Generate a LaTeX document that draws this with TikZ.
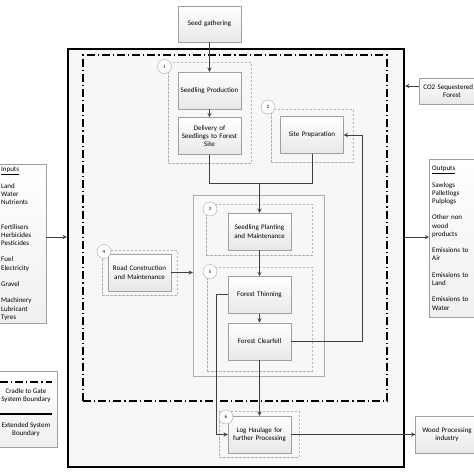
\documentclass[tikz,border=0pt]{standalone}
\usepackage{fontspec}
\setmainfont{Carlito}
\usepackage{tikz}
\usetikzlibrary{shapes.geometric, arrows, positioning}
\tikzstyle{process} = [rectangle, minimum width=63pt, minimum height=37pt, text width=60pt, inner sep=1pt, align=center, draw=gray!75, top color=white, bottom color=gray!18, font=\fontsize{7}{8.2}\selectfont]
\tikzstyle{listbox} = [rectangle, inner sep=3pt, align=left, draw=gray!75, top color=white, bottom color=gray!12, font=\fontsize{7}{8.2}\selectfont]
\tikzstyle{phase} = [rectangle, draw=gray!60, dash pattern=on 2.5pt off 1.5pt]
\tikzstyle{num} = [circle, minimum size=14pt, inner sep=0pt, draw=gray!70, fill=white, font=\fontsize{5}{6}\selectfont]
\tikzstyle{arrow} = [line width=0.9pt, draw=black!75, ->, >=stealth]
\tikzstyle{link} = [line width=0.9pt, draw=black!75]
\tikzstyle{cradle} = [line width=1.6pt, dash pattern=on 8pt off 3pt on 1.2pt off 3pt]
\tikzstyle{extended} = [line width=2.4pt]
\begin{document}
\begin{tikzpicture}[x=1pt, y=-1pt]
\useasboundingbox (0,0) rectangle (474,474);
% system boundaries
\node (ext) [draw, extended, fill=gray!6, minimum width=336pt, minimum height=418pt, inner sep=0pt] at (236,258) {};
\node (cradle) [draw, cradle, minimum width=304pt, minimum height=346pt, inner sep=0pt] at (235,228) {};
% phases
\node (core) [rectangle, draw=gray!65, minimum width=131pt, minimum height=181pt] at (258.5,285.5) {};
\node (grp1) [phase, minimum width=83pt, minimum height=101pt] at (209.5,112.5) {};
\node (grp2) [phase, minimum width=82pt, minimum height=53pt] at (312,135.5) {};
\node (grp3) [phase, minimum width=106pt, minimum height=51pt] at (259,229.5) {};
\node (grp4) [phase, minimum width=75pt, minimum height=45pt] at (139.5,272.5) {};
\node (grp5) [phase, minimum width=105pt, minimum height=104pt] at (259.5,319) {};
\node (grp6) [phase, minimum width=80pt, minimum height=46pt] at (259,434) {};
% processes
\node (seed) [process, minimum height=36pt] at (209.5,24) {Seed gathering};
\node (prod) [process] at (209.5,90.5) {Seedling Production};
\node (deliv) [process, below=8pt of prod] {Delivery of\\Seedlings to Forest\\Site};
\node (site) [process] at (312,135) {Site Preparation};
\node (plant) [process] at (259.5,231.5) {Seedling Planting\\and Maintenance};
\node (thin) [process, below=26pt of plant] {Forest Thinning};
\node (clear) [process, below=9pt of thin] {Forest Clearfell};
\node (road) [process] at (139.5,272.5) {Road Construction\\and Maintenance};
\node (haul) [process] at (259.5,434.5) {Log Haulage for\\further Processing};
\node (wood) [process] at (447,434.5) {Wood Processing\\industry};
\node (co2) [process, text width=64pt, minimum height=26pt] at (452,91) {CO2 Sequestered in\\Forest};
% phase numbers
\node (n1) [num] at (164.5,66.5) {1};
\node (n2) [num] at (268,107) {2};
\node (n3) [num] at (210,209) {3};
\node (n4) [num] at (104,251.5) {4};
\node (n5) [num] at (210,271.5) {5};
\node (n6) [num] at (226,417) {6};
% inputs and outputs
\node (inputs) [listbox, anchor=north west, minimum width=48pt, minimum height=158pt, text width=42pt] at (-2,164) {\underline{Inputs}\\[8.2pt]Land\\Water\\Nutrients\\[16.4pt]Fertilisers\\Herbicides\\Pesticides\\[8.2pt]Fuel\\Electricity\\[8.2pt]Gravel\\[8.2pt]Machinery\\Lubricant\\Tyres};
\node (outputs) [listbox, anchor=north west, minimum width=50pt, minimum height=158pt, text width=44pt] at (429,159) {\underline{Outputs}\\[8.2pt]Sawlogs\\Palletlogs\\Pulplogs\\[8.2pt]Other non\\wood\\products\\[8.2pt]Emissions to\\Air\\[8.2pt]Emissions to\\Land\\[8.2pt]Emissions to\\Water};
% legend
\node (legend) [listbox, anchor=north west, minimum width=59pt, minimum height=76pt] at (-2,371) {};
\coordinate (cgL) at (0,382);
\coordinate (cgR) at (52,382);
\coordinate (esL) at (0,414);
\coordinate (esR) at (52,414);
\draw [cradle] (cgL) -- (cgR);
\draw [extended] (esL) -- (esR);
\node (cgText) [align=center, font=\fontsize{7}{8.2}\selectfont] at (26,396) {Cradle to Gate\\System Boundary};
\node (esText) [align=center, font=\fontsize{7}{8.2}\selectfont] at (26,430) {Extended System\\Boundary};
% connectors
\draw [arrow] (seed) -- (prod);
\draw [arrow] (prod) -- (deliv);
\coordinate (join) at (259.5,183);
\draw [link] (deliv.south) |- (join);
\draw [link] (site.south) |- (join);
\draw [arrow] (join) -- (plant);
\draw [arrow] (plant) -- (thin);
\draw [arrow] (thin) -- (clear);
\coordinate (loopR) at (362,135);
\draw [arrow] (clear.east) -| (loopR) -- (site.east);
\coordinate (loopL) at (216,0);
\draw [arrow] (thin.west) -- (thin.west -| loopL) |- (haul.west);
\draw [arrow] (clear) -- (haul);
\draw [arrow] (haul) -- (wood);
\draw [arrow] (road.east) -- (road.east -| core.west);
\coordinate (inA) at (0,237);
\coordinate (coA) at (0,86);
\draw [arrow] (inputs.east |- inA) -- (ext.west |- inA);
\draw [arrow] (ext.east |- inA) -- (outputs.west |- inA);
\draw [arrow] (co2.west |- coA) -- (ext.east |- coA);
\end{tikzpicture}
\end{document}
